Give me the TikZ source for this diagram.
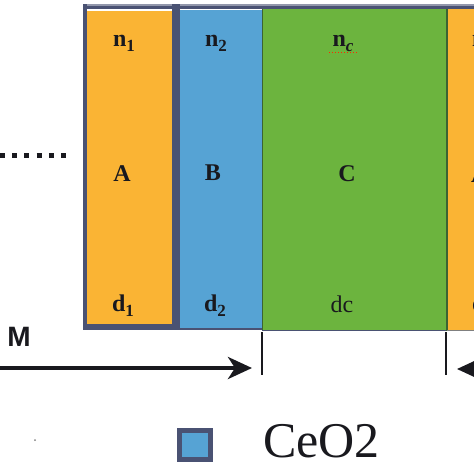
\documentclass[tikz,border=0pt]{standalone}
\usepackage{fontspec}
\setmainfont{Liberation Serif}
\newfontfamily\msans{Liberation Sans}
\usetikzlibrary{arrows.meta}
\definecolor{lorange}{RGB}{250,180,52}
\definecolor{lblue}{RGB}{86,163,212}
\definecolor{lgreen}{RGB}{108,180,62}
\definecolor{lframe}{RGB}{74,82,115}
\definecolor{ldgreen}{RGB}{60,100,50}
\definecolor{ltext}{RGB}{25,25,30}
\newcommand{\lsub}[1]{\raisebox{-5pt}{\fontsize{17}{17}\selectfont #1}}
\begin{document}
\begin{tikzpicture}[x=1pt,y=-1pt,
  lbl/.style={text=ltext,font=\fontsize{24}{24}\selectfont\bfseries,inner sep=0pt},
  lblr/.style={text=ltext,font=\fontsize{24}{24}\selectfont,inner sep=0pt},
  layer/.style={inner sep=0pt,outer sep=0pt,anchor=north west},
  tick/.style={line width=2pt,ltext},
  dimarrow/.style={line width=4pt,ltext,-{Stealth[length=24pt,width=22pt,inset=7pt]}}]
\useasboundingbox (0,0) rectangle (474,474);
\clip (0,0) rectangle (474,474);
% frame
\fill[lframe] (83,4) rectangle (480,9);
\fill[lframe!60!white] (83,4) rectangle (480,5.5);
\fill[lframe] (83,4) rectangle (87,329);
\fill[lframe] (83,324) rectangle (180,330);
\fill[lframe] (172,4) rectangle (180,330);
% layers
\node[layer,fill=lorange,minimum width=85pt,minimum height=313pt] (boxA) at (87,11) {};
\node[layer,fill=lblue,minimum width=82pt,minimum height=319pt] (boxB) at (180,10) {};
\draw[lframe,line width=1.5pt] (180,329) -- (262,329);
\node[layer,fill=lgreen,minimum width=184pt,minimum height=322pt] (boxC) at (262,9) {};
\draw[ldgreen,line width=1pt] (262,9) -- (262,331);
\draw[lframe,line width=1.5pt] (262,330.5) -- (448,330.5);
\node[layer,fill=lorange,minimum width=40pt,minimum height=321pt] (boxD) at (446,9) {};
\draw[ldgreen,line width=2pt] (446.5,9) -- (446.5,331);
\draw[gray,line width=1pt] (447,330.5) -- (480,330.5);
% labels
\node[lbl,anchor=base] (n1) at (124,46) {n\lsub{1}};
\node[lbl,anchor=base] (n2) at (216,46) {n\lsub{2}};
\node[lbl,anchor=base] (nc) at (343,46) {n\lsub{\itshape c}};
\draw[red!70!orange,dotted,line width=1pt] (329,52) -- (357,52);
\node[lbl,anchor=base] (A) at (122,181) {A};
\node[lbl,anchor=base] (B) at (213,180) {B};
\node[lbl,anchor=base] (C) at (347,181) {C};
\node[lbl,anchor=base] (d1) at (123,311) {d\lsub{1}};
\node[lbl,anchor=base] (d2) at (215,311) {d\lsub{2}};
\node[lblr,anchor=base] (dc) at (342,312) {dc};
\node[lbl,anchor=base west] (n4) at (472,46) {n\lsub{1}};
\node[lbl,anchor=base west] (A4) at (471,182) {A};
\node[lbl,anchor=base west] (d4) at (472,311) {d\lsub{1}};
% dots
\coordinate (dotL) at (0,155);
\coordinate (dotR) at (66,155);
\draw[ltext,line width=5pt,dash pattern=on 5pt off 7.2pt] (dotL) -- (dotR);
% M and arrows
\node[text=ltext,font=\msans\fontsize{28}{28}\selectfont\bfseries,inner sep=0pt] (M) at (19,337) {M};
\coordinate (arrL) at (0,368);
\coordinate (arrLtip) at (252,368);
\draw[dimarrow] (arrL) -- (arrLtip);
\coordinate (arrR) at (485,369);
\coordinate (arrRtip) at (457,369);
\draw[dimarrow] (arrR) -- (arrRtip);
\coordinate (t1a) at (262,332);
\coordinate (t1b) at (262,375);
\coordinate (t2a) at (446,332);
\coordinate (t2b) at (446,375);
\draw[tick] (t1a) -- (t1b);
\draw[tick] (t2a) -- (t2b);
% stray dot
\fill[gray] (35,440) circle (1pt);
% legend
\node[inner sep=0pt,outer sep=0pt,draw=lframe,line width=5pt,fill=lblue,minimum width=31pt,minimum height=29pt] (leg) at (195,445) {};
\node[text=ltext,font=\fontsize{50}{50}\selectfont,inner sep=0pt,anchor=base west] (ceo) at (263,457) {CeO2};
\end{tikzpicture}
\end{document}
